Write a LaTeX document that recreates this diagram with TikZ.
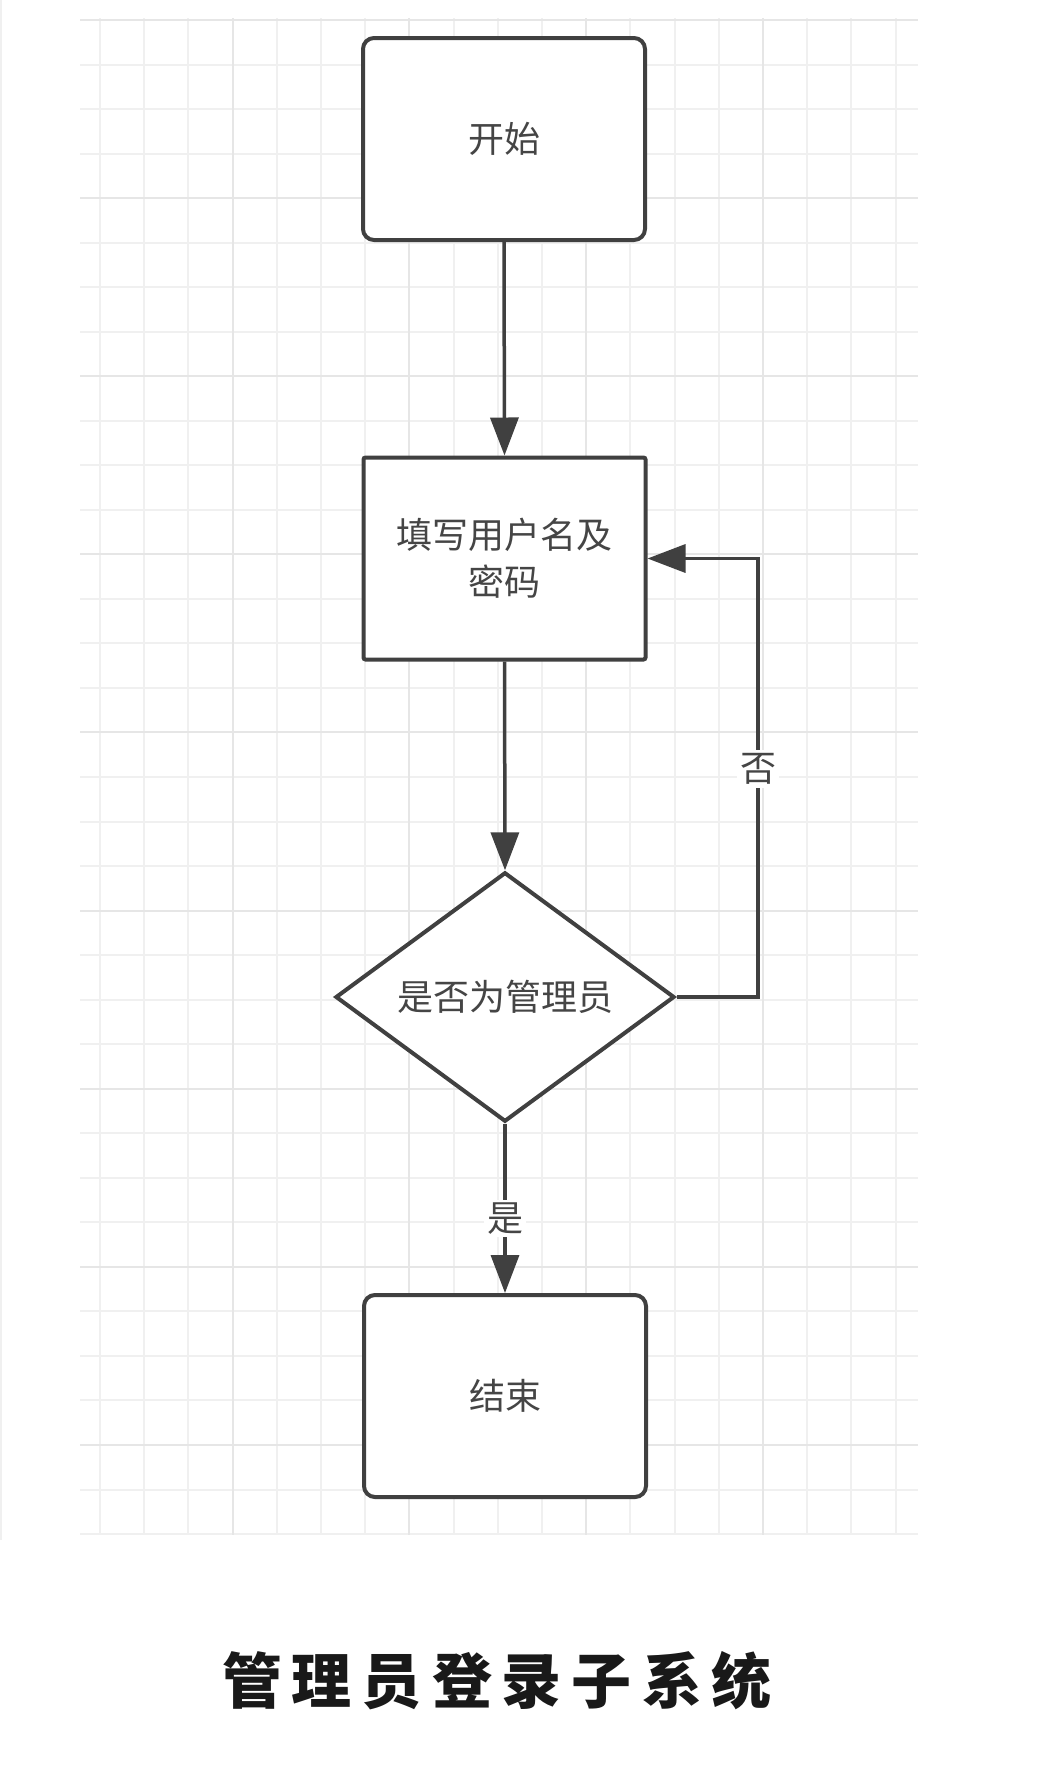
\documentclass[tikz,border=0pt]{standalone}
\usepackage{fontspec}
\setmainfont{Noto Sans CJK SC}
\newfontfamily\cjktitle{Noto Sans CJK SC}
\usetikzlibrary{arrows.meta,shapes.geometric}
\definecolor{linec}{HTML}{404040}
\definecolor{txtc}{HTML}{454545}
\definecolor{gridc}{HTML}{F0F0F0}
\definecolor{gridm}{HTML}{E6E6E6}
\newcommand{\tsp}{\hspace{10pt}}
\begin{document}
\begin{tikzpicture}[x=1pt,y=-1pt,
  box/.style={draw=linec, line width=4pt, fill=white, minimum width=282pt, minimum height=202pt,
    inner sep=0pt, text=txtc, align=center, font=\fontsize{36}{47}\selectfont},
  roundbox/.style={box, rounded corners=11pt},
  decision/.style={diamond, draw=linec, line width=4pt, fill=white, minimum width=339pt,
    minimum height=228pt, inner sep=0pt, text=txtc, font=\fontsize{36}{47}\selectfont},
  conn/.style={draw=linec, line width=3.5pt, -{Triangle[length=38pt,width=28pt]}},
  lbl/.style={fill=white, inner sep=3pt, text=txtc, font=\fontsize{36}{40}\selectfont},
  gridminor/.style={draw=gridc, line width=2pt},
  gridmajor/.style={draw=gridm, line width=2pt}]
\fill[white] (0,0) rectangle (1048,1778);
\useasboundingbox (0,0) rectangle (1048,1778);
% faint left edge
\draw[draw=gridc, line width=1.5pt] (1,0) -- (1,1540);
% grid
\foreach \k in {0,...,18} {
  \pgfmathsetmacro\xx{100+44.2*\k}
  \draw[gridminor] (\xx,18) -- (\xx,1535);
}
\foreach \k in {0,...,34} {
  \pgfmathsetmacro\yy{20+44.53*\k}
  \draw[gridminor] (80,\yy) -- (918,\yy);
}
\foreach \k in {3,7,11,15} {
  \pgfmathsetmacro\xx{100+44.2*\k}
  \draw[gridmajor] (\xx,18) -- (\xx,1535);
}
\foreach \k in {0,4,...,32} {
  \pgfmathsetmacro\yy{20+44.53*\k}
  \draw[gridmajor] (80,\yy) -- (918,\yy);
}
% nodes
\node[roundbox] (start) at (504,139) {开始};
\node[box, rounded corners=2pt] (fill) at (504.5,558.5) {填写用户名及\\密码};
\node[decision] (dec) at (505,997) {是否为管理员};
\node[roundbox] (endb) at (505,1396) {结束};
\coordinate (fbk) at (758,997);
% connectors
\draw[conn] (start.south) -- (fill.north);
\draw[conn] (fill.south) -- (dec.north);
\draw[conn] (dec.east) -- (fbk) |- node[lbl, pos=0.26] {否} (fill.east);
\draw[conn] (dec.south) -- node[lbl, pos=0.56] {是} (endb.north);
% title
\node[font=\cjktitle\bfseries\fontsize{60}{60}\selectfont, text=black!90] (title) at (497,1681)
  {管\tsp 理\tsp 员\tsp 登\tsp 录\tsp 子\tsp 系\tsp 统};
\end{tikzpicture}
\end{document}
